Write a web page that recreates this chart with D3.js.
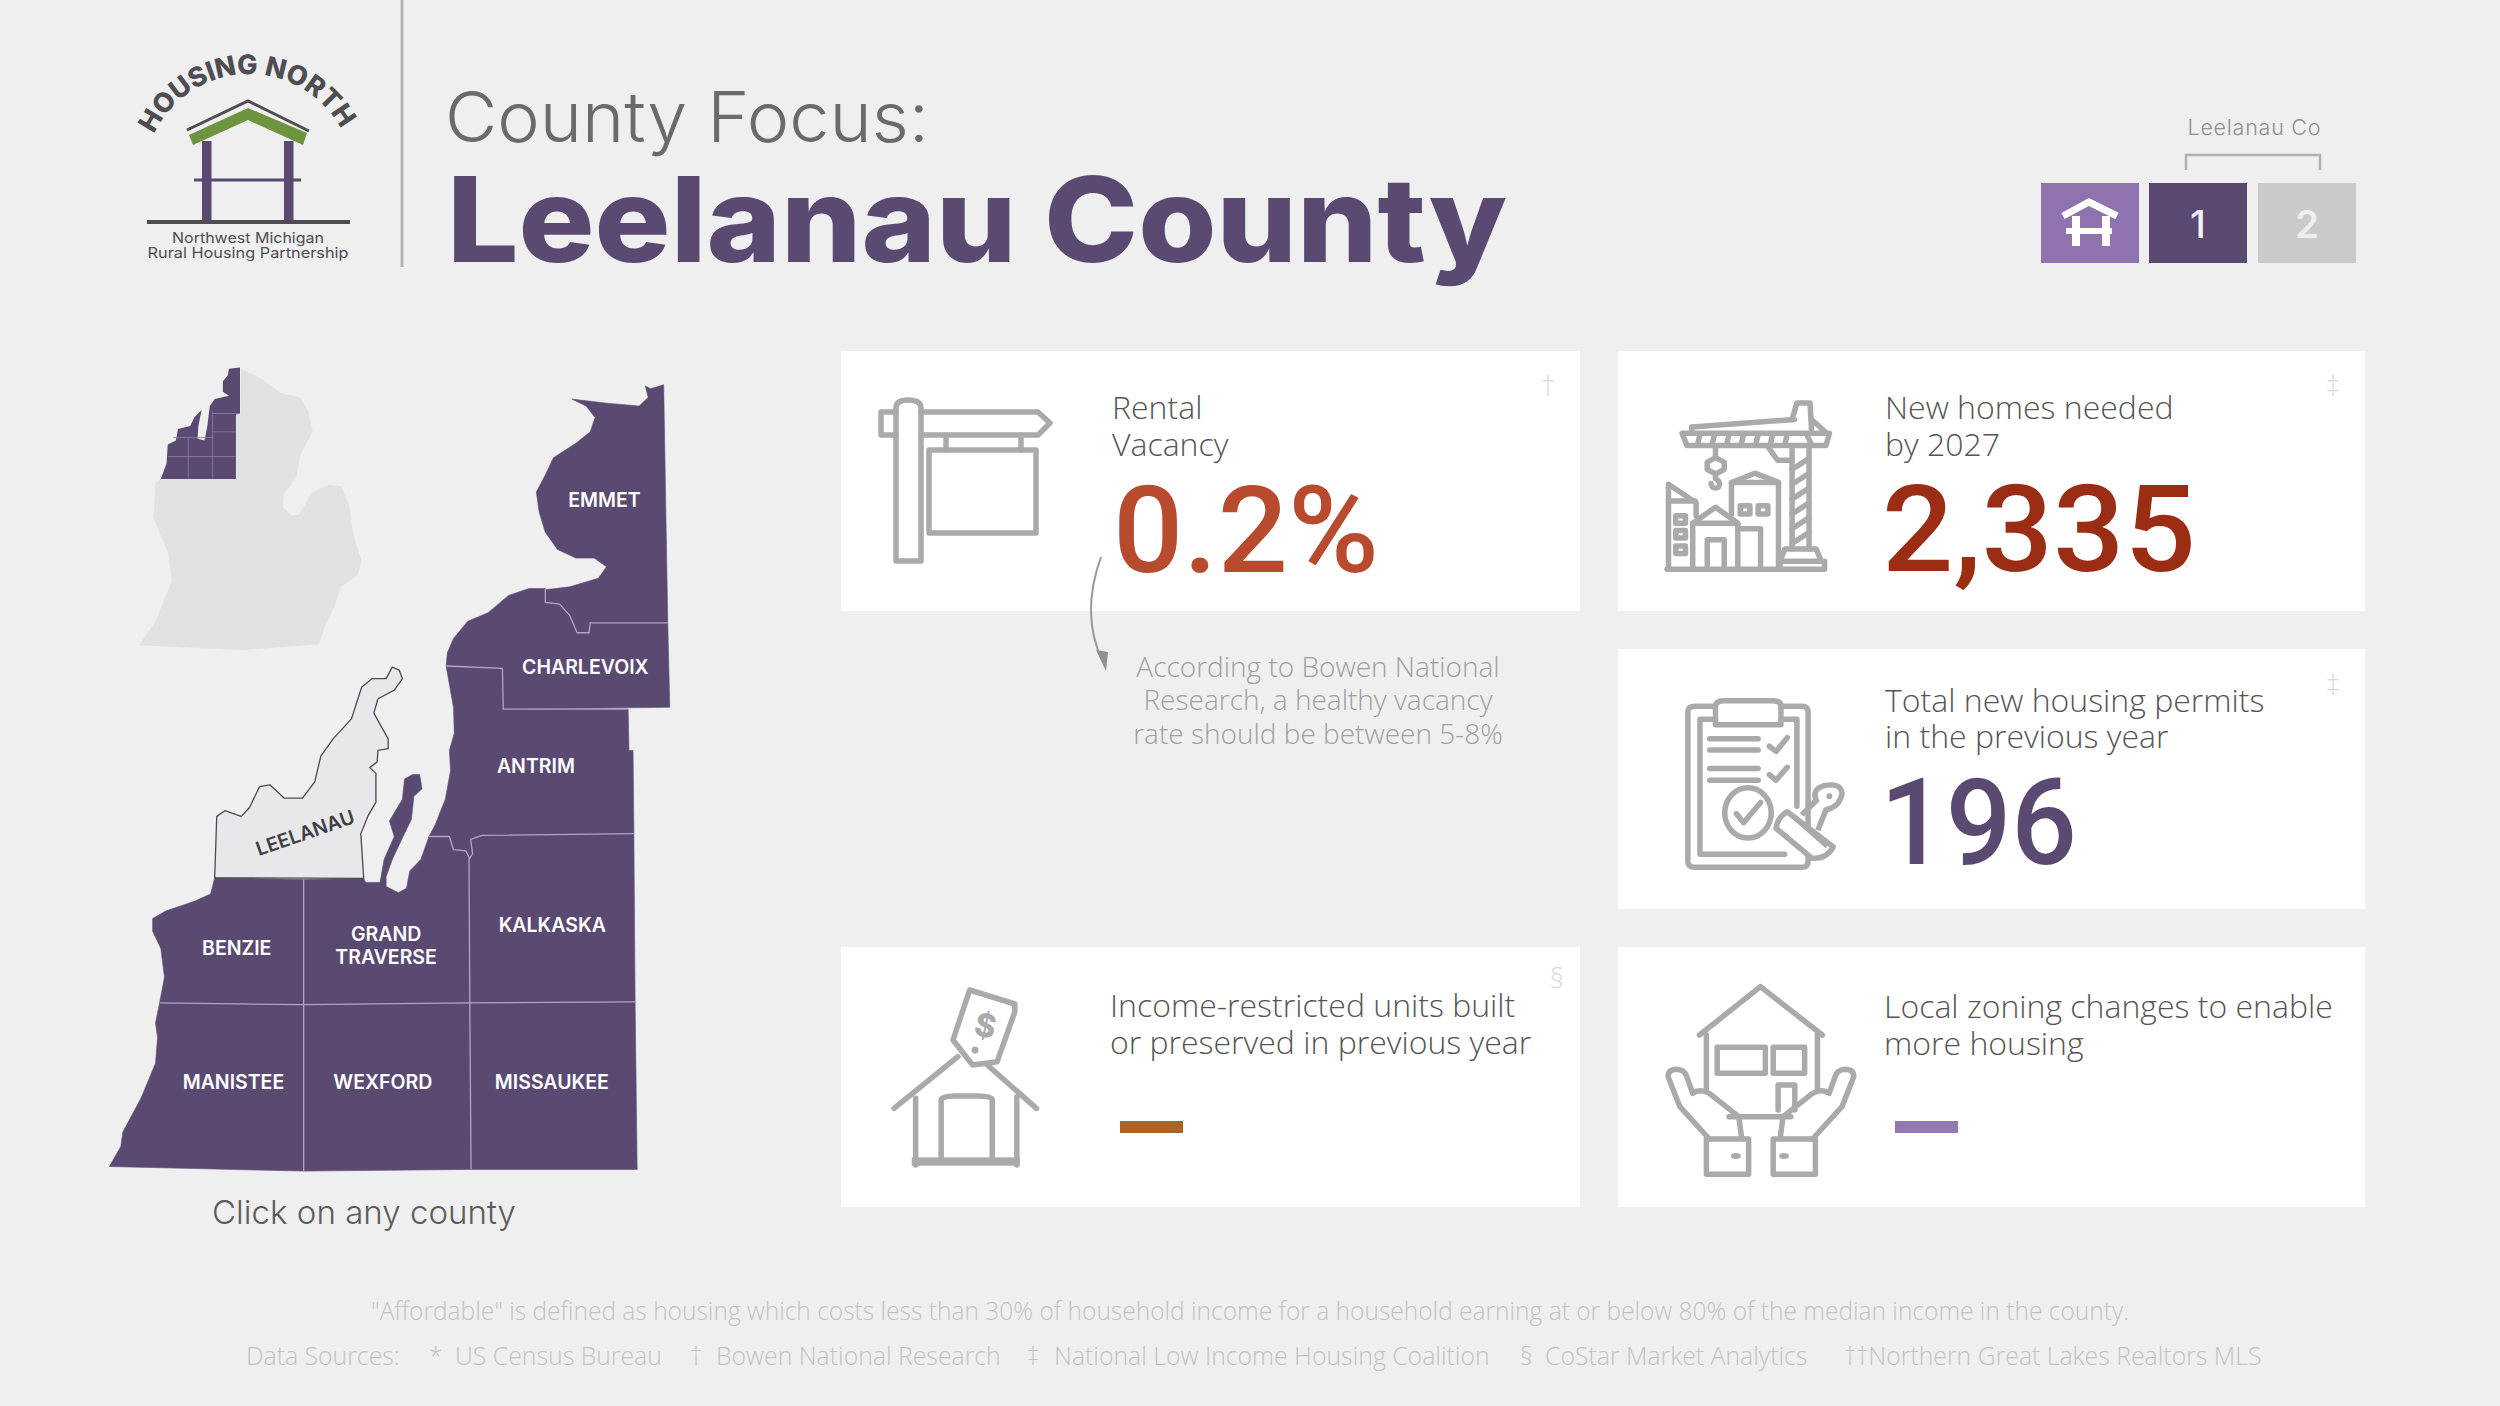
<!DOCTYPE html>
<html>
<head>
<meta charset="utf-8">
<title>County Focus: Leelanau County</title>
<script src="https://cdn.jsdelivr.net/npm/d3@7"></script>
<style>
  html, body { margin: 0; padding: 0; background: #efefef; }
  svg { display: block; }
</style>
</head>
<body>
<svg id="chart" width="2500" height="1406"></svg>
<script>
// values
const cardLabels = [
    ['Rental', 'Vacancy'],
    ['New homes needed', 'by 2027'],
    ['Total new housing permits', 'in the previous year'],
    ['Income-restricted units built', 'or preserved in previous year'],
    ['Local zoning changes to enable', 'more housing']
];
const cardValues = ['0.2%', '2,335', '196', null, null];
const cardMarks = ['†', '‡', '‡', '§', ''];
const cardColors = ['#b84a2d', '#9b2d14', '#5a4a72', '#a9642a', '#9378b2'];
const vacancyNote = ['According to Bowen National', 'Research, a healthy vacancy', 'rate should be between 5-8%'];

const countyNames = ['EMMET', 'CHARLEVOIX', 'ANTRIM', 'KALKASKA', 'GRAND|TRAVERSE', 'BENZIE', 'MANISTEE', 'WEXFORD', 'MISSAUKEE'];
const countyAnchors = [[1285, 288], [1238, 579], [1117, 752], [1157, 1028], [750, 1044], [384, 1068], [376, 1302], [742, 1302], [1156, 1302]];

const affordableNote = '"Affordable" is defined as housing which costs less than 30% of household income for a household earning at or below 80% of the median income in the county.';
const sourceLabels = ['Data Sources:', '*', 'US Census Bureau', '†', 'Bowen National Research', '‡', 'National Low Income Housing Coalition', '§', 'CoStar Market Analytics', '††Northern Great Lakes Realtors MLS'];
const sourceLefts = [246, 429, 455, 690, 716, 1027, 1054, 1520, 1545, 1844];

// county outlines, in map units
const emmet = [[1430,78],[1398,85],[1385,80],[1392,100],[1370,115],[1290,110],[1205,103],[1240,115],[1262,135],[1250,160],[1215,180],[1160,205],[1140,235],[1118,265],[1125,300],[1140,335],[1170,365],[1215,380],[1260,380],[1290,395],[1270,415],[1200,430],[1140,435],[1140,457],[1175,460],[1200,480],[1218,510],[1247,510],[1250,493],[1440,493]];
const charlevoix = [[1140,433],[1100,433],[1050,445],[1000,475],[950,490],[915,520],[900,545],[897,568],[1035,572],[1037,643],[1445,640],[1440,493],[1250,493],[1247,510],[1218,510],[1200,480],[1175,460],[1140,457]];
const antrim = [[897,568],[905,600],[915,640],[917,685],[905,715],[908,750],[895,800],[870,845],[855,865],[905,865],[915,888],[945,890],[955,903],[962,895],[957,870],[985,863],[1357,860],[1355,715],[1345,715],[1343,643],[1037,643],[1035,572]];
const kalkaska = [[953,903],[962,895],[957,870],[985,863],[1357,860],[1360,1153],[955,1155]];
const grandTraverse = [[548,940],[695,938],[700,945],[735,945],[745,905],[770,865],[758,838],[790,800],[795,765],[815,757],[832,757],[838,782],[818,795],[812,835],[795,860],[765,905],[750,935],[750,952],[780,963],[800,955],[808,925],[835,905],[855,865],[905,865],[915,888],[945,890],[953,903],[955,1155],[548,1158]];
const benzie = [[330,937],[548,940],[548,1158],[195,1155],[207,1110],[198,1060],[178,1030],[178,1008],[210,995],[280,978],[320,965]];
const manistee = [[195,1155],[548,1158],[548,1448],[72,1440],[100,1405],[105,1380],[150,1320],[185,1260],[190,1215],[185,1190]];
const wexford = [[548,1158],[955,1155],[958,1445],[548,1448]];
const missaukee = [[955,1155],[1360,1153],[1365,1445],[958,1445]];
const leelanau = [[330,937],[335,830],[355,820],[395,830],[415,815],[440,778],[465,775],[500,798],[545,798],[575,770],[590,725],[620,695],[665,660],[690,605],[715,590],[750,590],[765,570],[782,575],[790,590],[770,610],[730,625],[720,650],[755,695],[755,712],[730,715],[728,735],[710,745],[725,755],[725,805],[705,830],[688,860],[695,938]];
const countyBorders = [
    [[1140,433],[1140,457],[1175,460],[1200,480],[1218,510],[1247,510],[1250,493],[1440,493]],
    [[897,568],[1035,572],[1037,643],[1343,643]],
    [[855,865],[905,865],[915,888],[945,890],[955,903],[962,895],[957,870],[985,863],[1357,860]],
    [[953,903],[955,1155],[958,1445]],
    [[548,940],[548,1448]],
    [[195,1155],[548,1158],[955,1155],[1360,1153]]
];

// state inset
const lowerPeninsula = [[395,50],[450,70],[490,92],[540,100],[560,125],[570,160],[540,200],[530,240],[500,268],[497,290],[515,305],[535,305],[570,265],[610,252],[640,255],[660,290],[670,340],[690,385],[680,410],[640,430],[620,470],[605,490],[585,530],[400,540],[145,532],[185,490],[225,420],[215,370],[180,310],[185,250],[200,240],[382,240],[382,130],[393,128]];
const insetRegion = [[392,48],[365,50],[362,62],[350,72],[350,90],[365,97],[330,103],[318,115],[312,150],[305,175],[288,172],[290,150],[298,122],[280,135],[270,150],[240,155],[235,175],[215,182],[212,215],[198,242],[382,242],[382,130],[392,128]];
const insetBorders = [
    [[215,203],[382,203]],
    [[228,170],[325,170]],
    [[265,170],[265,242]],
    [[325,125],[325,242]],
    [[325,160],[382,160]],
    [[325,128],[392,128]]
];

// line icons, each in the units of its own sketch
const iconSign = ['M896 412 H881 V435 H896', 'M921 412 H1038 L1050 423 L1038 435 H921', 'M896 561 V408 Q896 400 908 400 Q921 400 921 408 V561 Z', 'M946 435 V450', 'M1021 435 V450', 'M929 450 H1036 V533 H929 Z'];
const iconCrane = ['M355 215 L365 170 H392 L395 240', 'M128 252 H432 L425 285 H138 Z', 'M148 252 V235 L360 215', 'M395 215 L425 250', 'M165 255 L160 282 M195 255 L190 282 M225 255 L220 282 M255 255 L250 282 M285 255 L280 282 M315 255 L310 282 M345 255 L340 282 M385 255 L395 282',
    'M305 288 L325 325 H355', 'M355 288 V565', 'M390 288 V565', 'M355 350 L390 320 M355 390 L390 360 M355 430 L390 400 M355 470 L390 440 M355 510 L390 480 M355 550 L390 520', 'M340 565 H405 L415 598 H330 Z', 'M330 598 V620 H422 V598',
    'M197 288 V318', 'M197 318 L215 330 V350 L197 362 L180 350 V330 Z', 'M197 362 V375 Q210 385 203 398 Q190 405 188 388',
    'M97 620 H330', 'M100 620 V390 L157 440 V475', 'M100 435 H155', 'M150 620 V495 L197 452 L243 495 V620', 'M150 495 H243', 'M180 620 V540 H215 V620', 'M243 510 H290 V620', 'M230 470 V385 L278 360 L327 385 V620', 'M230 385 H327',
    'M248 448 H268 V470 H248 Z', 'M285 448 H305 V470 H285 Z', 'M115 475 H135 V495 H115 Z', 'M115 515 H135 V535 H115 Z', 'M115 557 H135 V577 H115 Z'];
const iconClipboard = ['M197 990 H155 Q140 990 140 1005 V1410 Q140 1425 155 1425 H375 Q388 1425 388 1410 V1005 Q388 990 375 990 H332', 'M197 1025 H165 V1390 H340', 'M332 1025 H365 V1260', 'M197 1040 V990 Q197 975 215 975 H315 Q332 975 332 990 V1040 Z',
    'M185 1078 H285', 'M185 1108 H285', 'M185 1158 H285', 'M185 1190 H285', 'M308 1098 L322 1112 L345 1075', 'M308 1175 L322 1190 L345 1155', 'M240 1280 L255 1305 L290 1250'];
const iconStamp = 'M345 1275 Q325 1290 322 1320 L395 1400 Q425 1405 440 1370 Z';
const iconStampHandle = ['M375 1283 L405 1245 Q395 1215 420 1205 Q455 1195 458 1225 Q455 1260 425 1270 L408 1325', 'M360 1290 L428 1368'];
const iconSale = ['M55 505 L120 350', 'M150 375 L200 505', 'M77 475 V675', 'M180 470 V675', 'M103 655 V480 Q103 468 118 468 H140 Q155 468 155 480 V655', 'M132 150 L178 192 V215 L160 365 L135 375 L115 300 Z'];
const iconHands = ['M875 285 L937 140 L1000 285', 'M882 285 V445', 'M995 285 V445', 'M893 322 H942 V400 H893 Z', 'M950 322 H982 V400 H950 Z', 'M955 510 V435 H972 V510', 'M905 530 H968',
    'M885 597 L855 500 L843 410 Q843 388 852 388 Q860 390 862 410 L868 460 Q875 445 885 460 L915 530 L918 597', 'M990 597 L1020 500 L1032 410 Q1032 388 1023 388 Q1015 390 1013 410 L1007 460 Q1000 445 990 460 L960 530 L957 597',
    'M882 597 H925 V703 H882 Z', 'M950 597 H993 V703 H950 Z'];

const sansLight = '"Open Sans", sans-serif';
const geometric = 'Inter, sans-serif';
const purple = '#5a4a72';
const iconGrey = '#aaaaaa';
const iconStroke = 5.5;

const svg = d3.select('#chart');

svg.append('rect').attr('width', 2500).attr('height', 1406).attr('fill', '#efefef');

function label(parent, str, x, y, size, family, weight, color) {
    return parent.append('text')
        .attr('x', x)
        .attr('y', y)
        .attr('font-family', family)
        .attr('font-size', size)
        .attr('font-weight', weight)
        .attr('fill', color)
        .text(str);
}

// Header
const header = svg.append('g').classed('header', true);
header.append('line').attr('x1', 402).attr('x2', 402).attr('y1', 0).attr('y2', 267)
    .attr('stroke', '#b5b5b5').attr('stroke-width', 3);

label(header, 'County Focus:', 445, 142, 70, geometric, 300, '#6a6a6a')
    .attr('textLength', 484).attr('lengthAdjust', 'spacingAndGlyphs');
label(header, 'Leelanau County', 447, 262, 118, geometric, 800, purple)
    .attr('textLength', 1060).attr('lengthAdjust', 'spacingAndGlyphs');

// Logo
const logo = svg.append('g').classed('logo', true);
logo.append('path').attr('id', 'logoArc').attr('d', 'M155 132 A105 105 0 0 1 340 127').attr('fill', 'none');
logo.append('text')
    .attr('font-family', geometric).attr('font-size', 27).attr('font-weight', 800).attr('fill', '#4d4d52')
    .append('textPath').attr('href', '#logoArc').attr('startOffset', '50%').attr('text-anchor', 'middle')
    .text('HOUSING NORTH');
logo.append('path').attr('d', 'M187 130 L248 101 L309 131').attr('fill', 'none').attr('stroke', '#4d4d52').attr('stroke-width', 3);
logo.append('path').attr('d', 'M189 135 L248 108 L307 133 L303 145 L248 120 L193 145 Z').attr('fill', '#6f9440');
logo.append('rect').attr('x', 202).attr('y', 141).attr('width', 9.5).attr('height', 81).attr('fill', purple);
logo.append('rect').attr('x', 284).attr('y', 141).attr('width', 9.5).attr('height', 81).attr('fill', purple);
logo.append('rect').attr('x', 194).attr('y', 178.5).attr('width', 107).attr('height', 3).attr('fill', purple);
logo.append('rect').attr('x', 147).attr('y', 220).attr('width', 203).attr('height', 4).attr('fill', '#4d4d52');
label(logo, 'Northwest Michigan', 248, 243, 14.5, geometric, 400, '#4d4d52').attr('text-anchor', 'middle')
    .attr('textLength', 152).attr('lengthAdjust', 'spacingAndGlyphs');
label(logo, 'Rural Housing Partnership', 248, 257.5, 14.5, geometric, 400, '#4d4d52').attr('text-anchor', 'middle')
    .attr('textLength', 201).attr('lengthAdjust', 'spacingAndGlyphs');

// Nav buttons
const nav = svg.append('g').classed('nav', true);
nav.append('rect').attr('x', 2041).attr('y', 183).attr('width', 98).attr('height', 80).attr('fill', '#8e73ae');
nav.append('rect').attr('x', 2149).attr('y', 183).attr('width', 98).attr('height', 80).attr('fill', purple);
nav.append('rect').attr('x', 2258).attr('y', 183).attr('width', 98).attr('height', 80).attr('fill', '#cacaca');
nav.append('path').attr('d', 'M2063 216 L2089 202 L2117 216').attr('fill', 'none').attr('stroke', '#fff').attr('stroke-width', 7);
nav.append('path').attr('d', 'M2076 216 V246 M2106 216 V246').attr('stroke', '#fff').attr('stroke-width', 8);
nav.append('path').attr('d', 'M2066 231 H2112').attr('stroke', '#fff').attr('stroke-width', 6);
label(nav, '1', 2198, 238, 38, geometric, 500, '#f4f0f8').attr('text-anchor', 'middle');
label(nav, '2', 2307, 238, 38, geometric, 600, '#eeeeee').attr('text-anchor', 'middle');
label(nav, 'Leelanau Co', 2254, 135, 21.5, geometric, 300, '#8f8f8f').attr('text-anchor', 'middle')
    .attr('textLength', 133).attr('lengthAdjust', 'spacing');
nav.append('path').attr('d', 'M2186 170 V155 H2320 V170').attr('fill', 'none').attr('stroke', '#b0b0b0').attr('stroke-width', 2.5);

// Map
const xMap = d3.scaleLinear().domain([0, 1568]).range([80, 720]);
const yMap = d3.scaleLinear().domain([0, 1568]).range([340, 1240]);
const outline = d3.line().x(d => xMap(d[0])).y(d => yMap(d[1]));
const mapGroup = svg.append('g').classed('map', true);

mapGroup.append('path').attr('d', outline(lowerPeninsula) + 'Z').attr('fill', '#e1e1e1');
mapGroup.append('path').attr('d', outline(insetRegion) + 'Z').attr('fill', purple);
mapGroup.selectAll('.inset-border').data(insetBorders).enter().append('path')
    .attr('d', outline).attr('fill', 'none').attr('stroke', '#8e7ea8').attr('stroke-width', 0.8);

mapGroup.selectAll('.county')
    .data([emmet, charlevoix, antrim, kalkaska, grandTraverse, benzie, manistee, wexford, missaukee])
    .enter().append('path')
    .attr('d', d => outline(d) + 'Z')
    .attr('fill', purple)
    .attr('stroke', purple)
    .attr('stroke-width', 0.6);
mapGroup.selectAll('.county-border').data(countyBorders).enter().append('path')
    .attr('d', outline).attr('fill', 'none').attr('stroke', '#b3a3c9').attr('stroke-width', 1.3);
mapGroup.append('path').attr('d', outline(leelanau) + 'Z')
    .attr('fill', '#e8e8ea').attr('stroke', '#4a4a50').attr('stroke-width', 1.3).attr('stroke-linejoin', 'round');

countyNames.forEach((name, i) => {
    const lines = name.split('|');
    const x = xMap(countyAnchors[i][0]);
    lines.forEach((line, j) => {
        label(mapGroup, line, x, yMap(countyAnchors[i][1]) + 1.5 + j * 23, 19.5, geometric, 600, '#ffffff')
            .attr('text-anchor', 'middle');
    });
});
label(mapGroup, 'LEELANAU', 0, 0, 19.5, geometric, 600, '#3f3f45')
    .attr('text-anchor', 'middle')
    .attr('transform', `translate(${xMap(557)},${yMap(870)}) rotate(-19)`);
label(mapGroup, 'Click on any county', 364, 1223.5, 33, geometric, 300, '#5c5c5c')
    .attr('text-anchor', 'middle').attr('textLength', 304).attr('lengthAdjust', 'spacingAndGlyphs');

// Cards
const colLefts = [841, 1618];
const colWidths = [739, 747];
const cardRows = [351, 649, 947];
const cardHeight = 260;
const cardSlots = [[0, 0], [1, 0], [1, 1], [0, 2], [1, 2]];
const cardText = [[1112, 419, 456], [1885, 419, 456], [1885, 712, 748], [1110, 1017, 1054], [1884, 1018, 1055]];
const markPos = [[1548, 396], [2333, 396], [2333, 695], [1557, 988]];
const valueLeft = [1113, 1882, 1880];
const valueBase = [572, 571, 864];
const valueWidth = [266, 314, 197];
const cards = svg.append('g').classed('cards', true);

cards.selectAll('rect').data(cardSlots).enter().append('rect')
    .attr('x', d => colLefts[d[0]])
    .attr('y', d => cardRows[d[1]])
    .attr('width', d => colWidths[d[0]])
    .attr('height', cardHeight)
    .attr('fill', '#ffffff');

cardLabels.forEach((lines, i) => {
    label(cards, lines[0], cardText[i][0], cardText[i][1], 32, sansLight, 300, '#555555');
    label(cards, lines[1], cardText[i][0], cardText[i][2], 32, sansLight, 300, '#555555');
    if (cardValues[i]) {
        label(cards, cardValues[i], valueLeft[i], valueBase[i], 120, 'Roboto, sans-serif', 500, cardColors[i])
            .attr('textLength', valueWidth[i]).attr('lengthAdjust', 'spacingAndGlyphs');
    }
    if (cardMarks[i]) {
        label(cards, cardMarks[i], markPos[i][0], markPos[i][1], 28, sansLight, 300, '#d8d8d8').attr('text-anchor', 'middle');
    }
});
cards.append('rect').attr('x', 1120).attr('y', 1121).attr('width', 63).attr('height', 12).attr('fill', cardColors[3]);
cards.append('rect').attr('x', 1895).attr('y', 1121).attr('width', 63).attr('height', 12).attr('fill', cardColors[4]);

// Vacancy note and arrow
const noteGroup = svg.append('g').classed('note', true);
vacancyNote.forEach((line, i) => {
    label(noteGroup, line, 1318, 677 + i * 33.3, 28, sansLight, 300, '#a0a0a0').attr('text-anchor', 'middle');
});
noteGroup.append('path').attr('d', 'M1101 557 Q1080 615 1103 662').attr('fill', 'none').attr('stroke', '#999999').attr('stroke-width', 2);
noteGroup.append('path').attr('d', 'M1106 671 L1096 650 L1108 652 Z').attr('fill', '#8f8f8f');

// Icons
function drawIcon(paths, sx, sy, ox, oy) {
    const g = svg.append('g').attr('transform', `translate(${ox},${oy}) scale(${sx},${sy})`);
    g.selectAll('path').data(paths).enter().append('path')
        .attr('d', d => d)
        .attr('fill', 'none')
        .attr('stroke', iconGrey)
        .attr('stroke-width', iconStroke)
        .attr('stroke-linejoin', 'round')
        .attr('stroke-linecap', 'round')
        .attr('vector-effect', 'non-scaling-stroke');
    return g;
}
drawIcon(iconSign, 1, 1, 0, 0);
drawIcon(iconCrane, 1 / 2.063, 1 / 2.703, 1620, 340);
const board = drawIcon(iconClipboard, 1 / 2.063, 1 / 2.703, 1620, 340);
board.append('ellipse').attr('cx', 264).attr('cy', 1278).attr('rx', 48).attr('ry', 68)
    .attr('fill', 'none').attr('stroke', iconGrey).attr('stroke-width', iconStroke).attr('vector-effect', 'non-scaling-stroke');
board.append('path').attr('d', iconStamp).attr('fill', '#ffffff')
    .attr('stroke', iconGrey).attr('stroke-width', iconStroke).attr('stroke-linejoin', 'round').attr('vector-effect', 'non-scaling-stroke');
iconStampHandle.forEach(d => {
    board.append('path').attr('d', d).attr('fill', 'none')
        .attr('stroke', iconGrey).attr('stroke-width', iconStroke).attr('vector-effect', 'non-scaling-stroke');
});
board.append('ellipse').attr('cx', 432).attr('cy', 1233).attr('rx', 6).attr('ry', 8).attr('fill', iconGrey);
const sale = drawIcon(iconSale, 1 / 1.018, 1 / 3, 840, 940);
sale.select('path:last-child').attr('fill', '#ffffff');
sale.append('rect').attr('x', 73).attr('y', 652).attr('width', 110).attr('height', 25).attr('fill', iconGrey);
label(svg, '$', 985, 1037, 32, geometric, 800, iconGrey).attr('text-anchor', 'middle')
    .attr('transform', 'rotate(12 985 1028)');
svg.append('circle').attr('cx', 975).attr('cy', 1050).attr('r', 3.5).attr('fill', iconGrey);
const hands = drawIcon(iconHands, 1 / 1.018, 1 / 3, 840, 940);
hands.append('ellipse').attr('cx', 912).attr('cy', 648).attr('rx', 5).attr('ry', 9).attr('fill', iconGrey);
hands.append('ellipse').attr('cx', 961).attr('cy', 648).attr('rx', 5).attr('ry', 9).attr('fill', iconGrey);

// Footer
const footer = svg.append('g').classed('footer', true);
label(footer, affordableNote, 371, 1320, 25, sansLight, 300, '#c2c2c2')
    .attr('textLength', 1758).attr('lengthAdjust', 'spacingAndGlyphs');
sourceLabels.forEach((str, i) => {
    label(footer, str, sourceLefts[i], 1364.5, 24.8, sansLight, 300, '#c2c2c2');
});
</script>
</body>
</html>
